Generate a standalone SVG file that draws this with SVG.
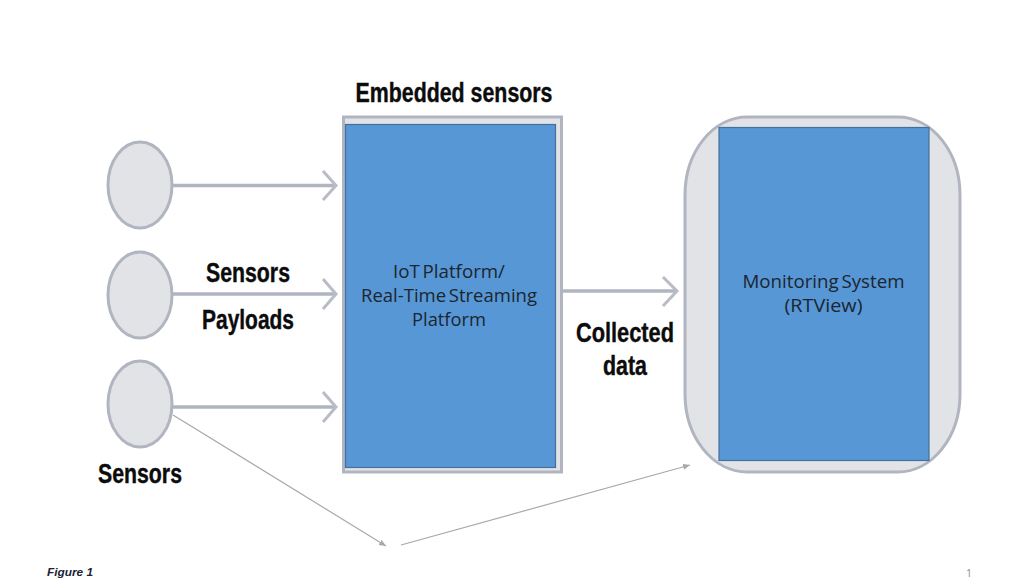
<svg xmlns="http://www.w3.org/2000/svg" width="1024" height="588" viewBox="0 0 1024 588">
<style>
.sensor{fill:#e1e3e7;stroke:#b0b5c0;stroke-width:3}
.blue{fill:#5797d5;stroke:#41719c;stroke-width:1.2}
.shell{fill:#e1e3e7;stroke:#b0b5c0;stroke-width:3}
.thick{fill:none;stroke:#b0b5c0;stroke-width:3.5}
.thin{fill:none;stroke:#a9a9a9;stroke-width:1.2}
.head{fill:none;stroke:#b8bcc6;stroke-width:3}
.lab{font-family:"Liberation Sans",Arial,sans-serif;font-weight:700;font-size:27px;fill:#0c0c0c;stroke:#0c0c0c;stroke-width:.4;text-anchor:middle}
.txt{font-family:"Open Sans","Noto Sans",sans-serif;font-size:17.5px;fill:#1c2530;text-anchor:middle;word-spacing:-2px}
</style>
<defs>
<marker id="tip" markerWidth="8" markerHeight="8" refX="7" refY="3" orient="auto" markerUnits="userSpaceOnUse"><path d="M0,0L7,3L0,6z" fill="#a9a9a9"/></marker>
</defs>
<rect width="1024" height="588" fill="#fff"/>
<g id="sensor-1"><ellipse class="sensor" cx="140" cy="185" rx="32" ry="43"/></g>
<g id="sensor-2"><ellipse class="sensor" cx="140" cy="295" rx="32" ry="43"/></g>
<g id="sensor-3"><ellipse class="sensor" cx="140" cy="404" rx="32" ry="43"/><text class="lab" x="140" y="483" textLength="84" lengthAdjust="spacingAndGlyphs">Sensors</text></g>
<g id="iot-platform">
<rect class="shell" x="343.500" y="117" width="218" height="355"/>
<rect class="blue" x="345.500" y="124.500" width="210" height="343"/>
<text class="txt" x="449" y="278" textLength="112" lengthAdjust="spacingAndGlyphs">IoT Platform/</text>
<text class="txt" x="449" y="302" textLength="176" lengthAdjust="spacingAndGlyphs">Real-Time Streaming</text>
<text class="txt" x="449" y="326" textLength="74" lengthAdjust="spacingAndGlyphs">Platform</text>
<text class="lab" x="454" y="102" textLength="197" lengthAdjust="spacingAndGlyphs">Embedded sensors</text>
</g>
<g id="monitoring-system">
<rect class="shell" x="685" y="117" width="275" height="355" rx="62" ry="78"/>
<rect class="blue" x="719" y="127.500" width="210" height="333"/>
<text class="txt" x="823.500" y="288" textLength="162" lengthAdjust="spacingAndGlyphs">Monitoring System</text>
<text class="txt" x="823.500" y="312" textLength="78" lengthAdjust="spacingAndGlyphs">(RTView)</text>
</g>
<g id="connectors">
<path class="thick" d="M173 185.500H335M173 294H335M173 407H335M563 291H676"/>
<path class="head" d="M323 171L336 185.500L323 200M323 279L336 294L323 309M323 392L336 407L323 422M663 277L677 291L663 306"/>
<path class="thin" d="M173 415L386 546" marker-end="url(#tip)"/>
<path class="thin" d="M401 545L690 465" marker-end="url(#tip)"/>
</g>
<g id="labels">
<text class="lab" x="248" y="282" textLength="84" lengthAdjust="spacingAndGlyphs">Sensors</text>
<text class="lab" x="248" y="329" textLength="92" lengthAdjust="spacingAndGlyphs">Payloads</text>
<text class="lab" x="625" y="342" textLength="98" lengthAdjust="spacingAndGlyphs">Collected</text>
<text class="lab" x="625" y="375" textLength="44" lengthAdjust="spacingAndGlyphs">data</text>
<text x="47" y="576" font-family="'Liberation Sans',Arial,sans-serif" font-size="11.500" font-weight="700" font-style="italic" fill="#1a2433" textLength="46" lengthAdjust="spacingAndGlyphs">Figure 1</text>
<text x="969" y="577" font-family="'Open Sans',sans-serif" font-size="10.500" fill="#8a8a8a" text-anchor="middle">1</text>
</g>
</svg>
